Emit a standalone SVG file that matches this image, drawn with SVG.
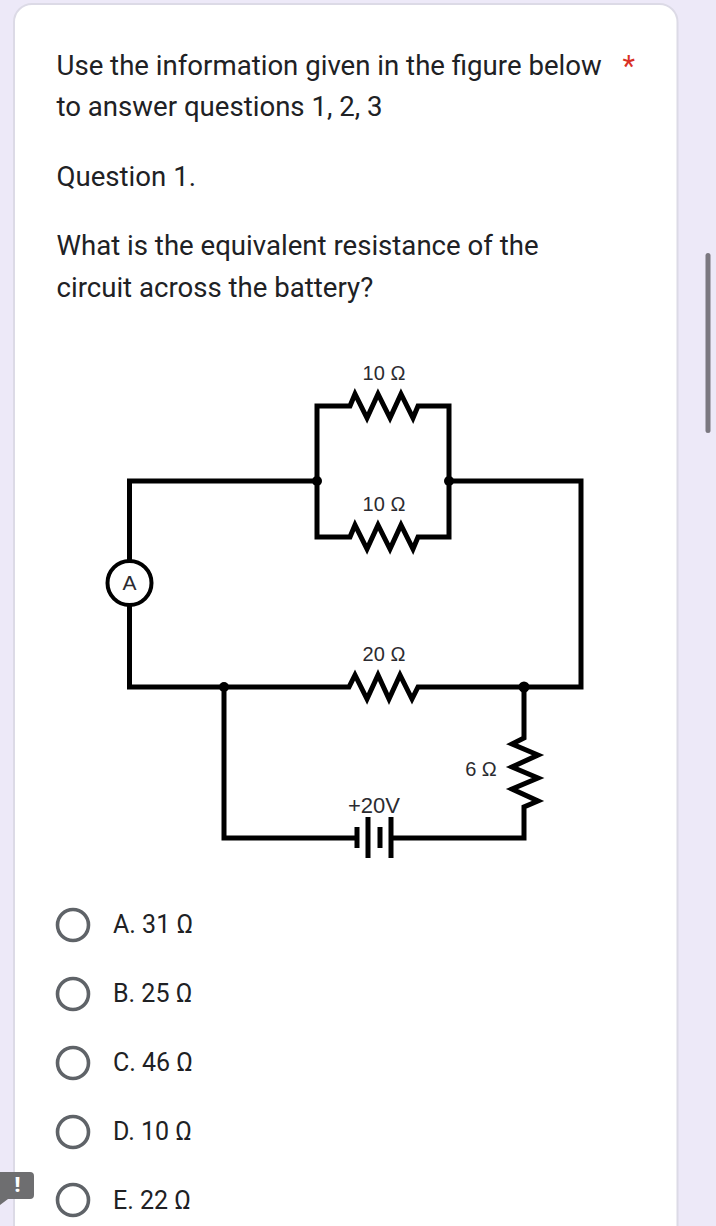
<svg xmlns="http://www.w3.org/2000/svg" width="716" height="1226" viewBox="0 0 716 1226">
<style>
.q{font-family:Roboto,"Liberation Sans",sans-serif;font-size:27.6px;fill:#202124}
.o{font-family:Roboto,"Liberation Sans",sans-serif;font-size:25px;fill:#202124}
.l{font-family:"Liberation Sans",Arial,sans-serif;font-size:20px;fill:#2b2b30;text-anchor:middle}
.w{fill:none;stroke:#000;stroke-width:5;stroke-linejoin:miter;stroke-linecap:butt}
.r{fill:none;stroke:#5f6368;stroke-width:3.6}
</style>
<rect width="716" height="1226" fill="#ede9f8"/>
<rect x="14" y="4" width="663.5" height="1240" rx="18" fill="#fff" stroke="#dcdae6" stroke-width="2"/>
<rect x="705.5" y="253" width="5" height="180" rx="2.5" fill="#7b7880"/>
<path d="M0 1172H30Q34 1172 34 1176V1195Q34 1199 30 1199H8L0 1205Z" fill="#6e6e70"/>
<text x="17.500" y="1192" font-family="Roboto,sans-serif" font-size="21" font-weight="900" fill="#fff" text-anchor="middle">!</text>
<g id="question">
<text class="q" x="56.500" y="75.300">Use the information given in the figure below</text>
<text class="q" x="622.500" y="76" style="fill:#d93025;font-size:29px">*</text>
<text class="q" x="56.500" y="116.300">to answer questions 1, 2, 3</text>
<text class="q" x="56.500" y="186.300">Question 1.</text>
<text class="q" x="56.500" y="255">What is the equivalent resistance of the</text>
<text class="q" x="56.500" y="296.500">circuit across the battery?</text>
</g>
<g id="connectors">
<path class="w" d="M129.500 561V481H317M449 481H581V687H418L412 699 400 675 389 699 378 675 367 699 355 675 349 687H129.500V605"/>
<path class="w" d="M317 481V406H350L355 394 367 418 378 394 390 418 401 394 413 418 418 406H449V481"/>
<path class="w" d="M317 481V537H350L355 525 367 549 378 525 390 549 401 525 413 549 418 537H449V481"/>
<path class="w" d="M224 687V838H357"/>
<path class="w" d="M524 687V738L512 744 538 755 512 767 538 778 512 789 538 801 524 807V838H391"/>
</g>
<g id="junctions" fill="#000">
<circle cx="317" cy="481" r="5"/><circle cx="449" cy="481" r="5"/><circle cx="224" cy="687" r="5"/><circle cx="524" cy="687" r="5.500"/>
</g>
<g id="ammeter">
<circle cx="129.500" cy="583" r="22" fill="#fff" stroke="#000" stroke-width="4"/>
<text class="l" x="129.500" y="590" style="font-size:21px">A</text>
</g>
<g id="r1"><text class="l" x="384" y="380">10 Ω</text></g>
<g id="r2"><text class="l" x="384" y="511">10 Ω</text></g>
<g id="r3"><text class="l" x="384" y="661">20 Ω</text></g>
<g id="r4"><text class="l" x="481" y="776">6 Ω</text></g>
<g id="battery">
<text class="l" x="374" y="813" style="font-size:22px">+20V</text>
<path class="w" d="M357 827V848M368 817V858M380 827V848M391 817V858"/>
</g>
<g id="options">
<circle class="r" cx="73" cy="925" r="15.500"/><text class="o" x="113" y="933">A. 31 Ω</text>
<circle class="r" cx="73" cy="994" r="15.500"/><text class="o" x="113" y="1002">B. 25 Ω</text>
<circle class="r" cx="73" cy="1063" r="15.500"/><text class="o" x="113" y="1071">C. 46 Ω</text>
<circle class="r" cx="73" cy="1132" r="15.500"/><text class="o" x="113" y="1140">D. 10 Ω</text>
<circle class="r" cx="73" cy="1200" r="15.500"/><text class="o" x="113" y="1209">E. 22 Ω</text>
</g>
</svg>
